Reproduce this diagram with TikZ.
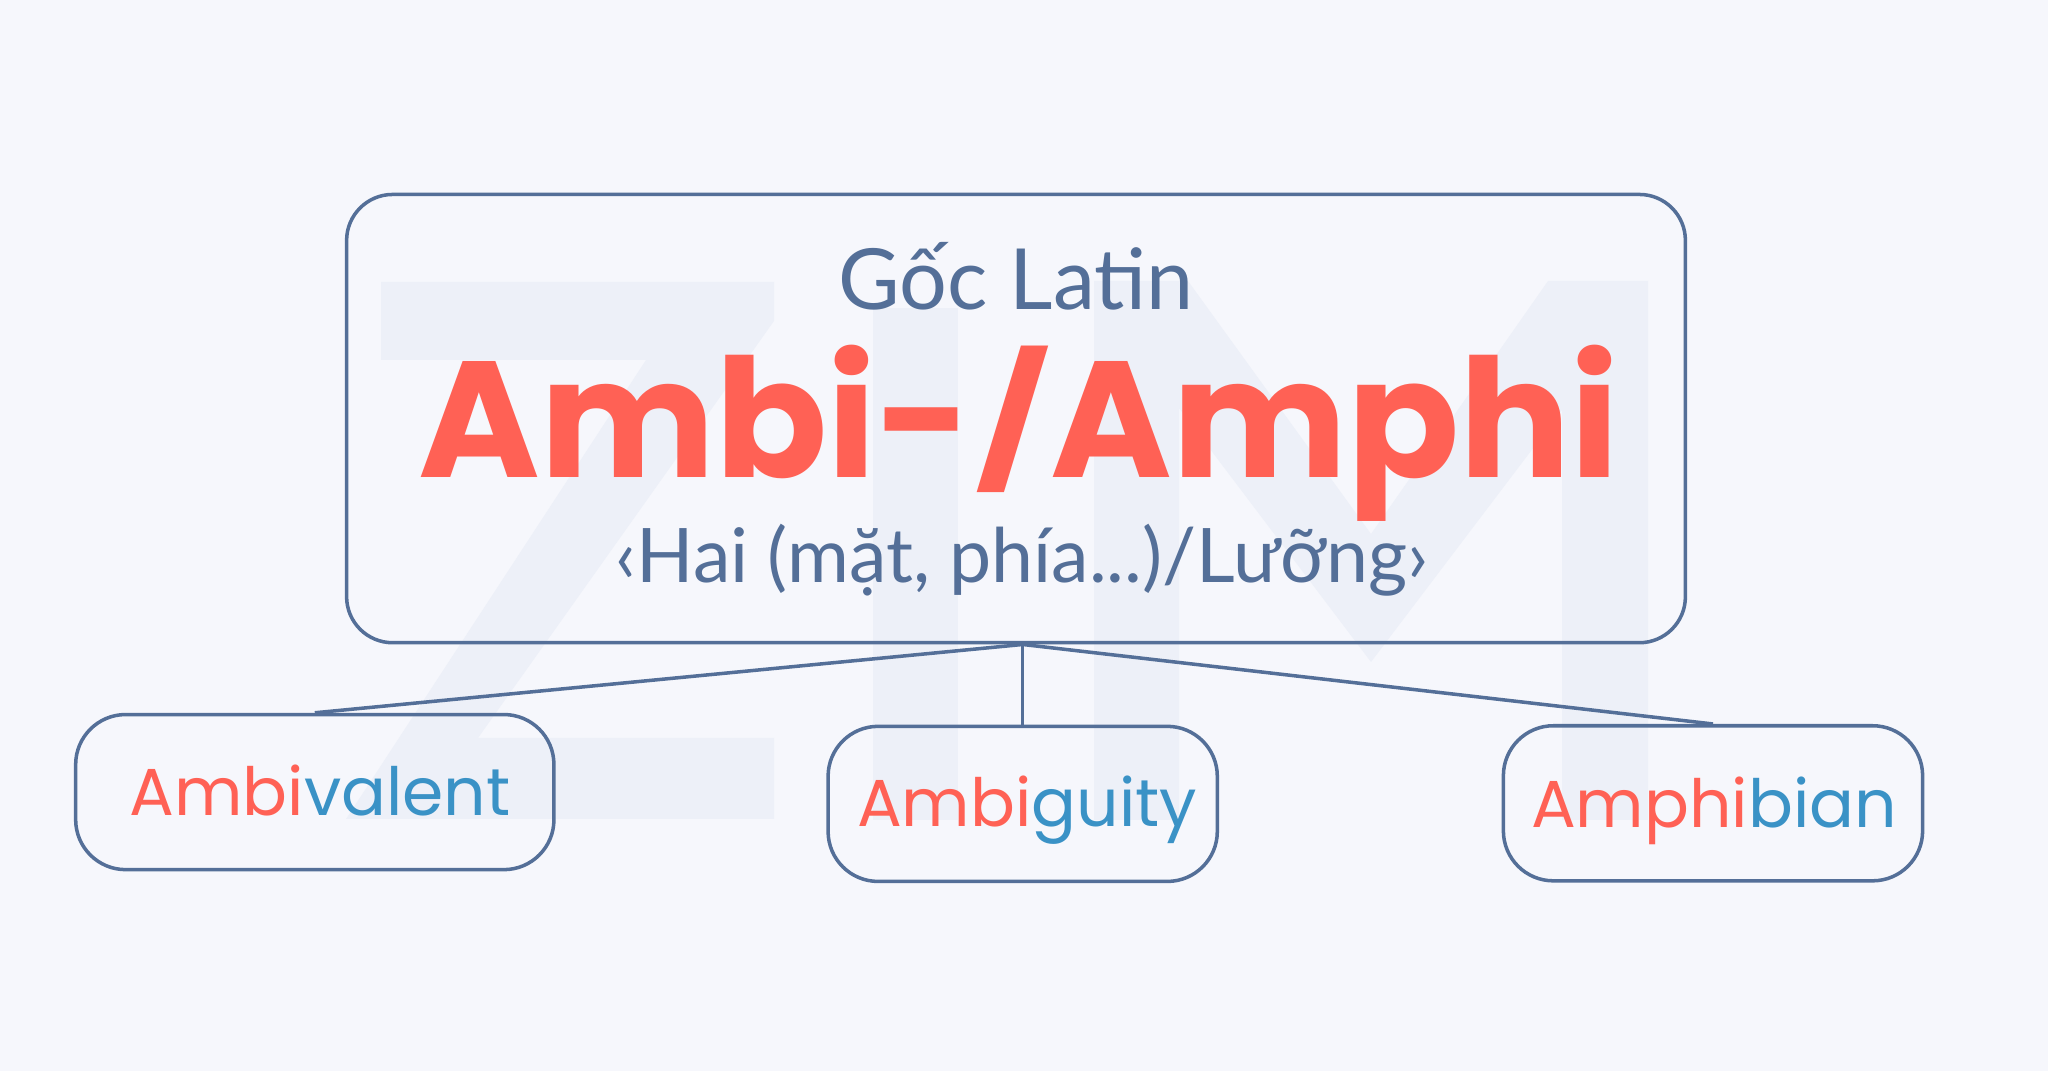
\documentclass[tikz,border=0pt]{standalone}
\usepackage{fontspec}
\usepackage{graphicx}
\setmainfont{Poppins}
\newfontfamily\vnfont{Lato}
\usetikzlibrary{positioning}

\definecolor{bgcol}{HTML}{F6F7FC}
\definecolor{wmcol}{HTML}{EDF0F8}
\definecolor{slate}{HTML}{546F98}
\definecolor{coral}{HTML}{FF6155}
\definecolor{sky}{HTML}{3A92C6}

\tikzset{
  rootbox/.style={draw=slate, line width=1pt, rounded corners=0.46cm,
    minimum width=13.38cm, minimum height=4.48cm, inner sep=0pt},
  wordbox/.style={draw=slate, line width=1pt, rounded corners=0.5cm,
    minimum height=1.55cm, inner sep=0pt},
  link/.style={draw=slate, line width=1pt},
  latintext/.style={anchor=base, text=slate, inner sep=0pt,
    font=\vnfont\fontsize{24}{28}\selectfont},
  meaningtext/.style={anchor=base, text=slate, inner sep=0pt,
    font=\vnfont\fontsize{21.4}{25}\selectfont},
  roottext/.style={anchor=base, text=coral, inner sep=0pt,
    font=\fontsize{47}{56}\selectfont\bfseries},
  wordtext/.style={anchor=base, text=sky, inner sep=0pt,
    font=\fontsize{18.9}{23}\selectfont},
}
\newcommand{\pre}[1]{\textcolor{coral}{#1}}
\newcommand{\shortslash}{\raisebox{0.09cm}{\scalebox{1}[0.78]{/}}}

\begin{document}
\begin{tikzpicture}[x=0.01cm, y=-0.01cm]
  % background
  \fill[bgcol] (0,0) rectangle (2048,1071);

  % watermark Z I M
  \fill[wmcol] (381,282) -- (774,282) -- (774,321) -- (478,738) -- (774,738)
    -- (774,819) -- (346,819) -- (646,360) -- (381,360) -- cycle;
  \fill[wmcol] (873,308) rectangle (958,820);
  \fill[wmcol] (1094,820) -- (1094,281) -- (1188,281) -- (1371,534) -- (1548,281)
    -- (1648,281) -- (1648,820) -- (1562,820) -- (1562,410) -- (1371,662)
    -- (1179,408) -- (1179,820) -- cycle;

  % root box
  \node[rootbox] (root) at (1016,418.6) {};
  \node[latintext] (latin) at (1016,309.5) {Gốc Latin};
  \node[roottext] (prefix) at (1019,478) {Ambi-\kern0.02em\shortslash Amphi};
  \node[meaningtext] (meaning) at (1022,582.5) {‹Hai (mặt, phía...)/Lưỡng›};

  % word boxes
  \node[wordbox, minimum width=4.78cm] (ambivalent) at (314.8,792.1) {};
  \node[wordbox, minimum width=3.89cm] (ambiguity) at (1022.7,803.9) {};
  \node[wordbox, minimum width=4.19cm] (amphibian) at (1713,803.3) {};

  \node[wordtext] (t1) at (320,816) {\pre{Ambi}valent};
  \node[wordtext] (t2) at (1027,827) {\pre{Ambi}guity};
  \node[wordtext] (t3) at (1714,828) {\pre{Amphi}bian};

  % connectors
  \coordinate (hub) at (ambiguity.north |- root.south);
  \draw[link] (hub) -- (ambivalent.north);
  \draw[link] (hub) -- (ambiguity.north);
  \draw[link] (hub) -- (amphibian.north);
\end{tikzpicture}
\end{document}
